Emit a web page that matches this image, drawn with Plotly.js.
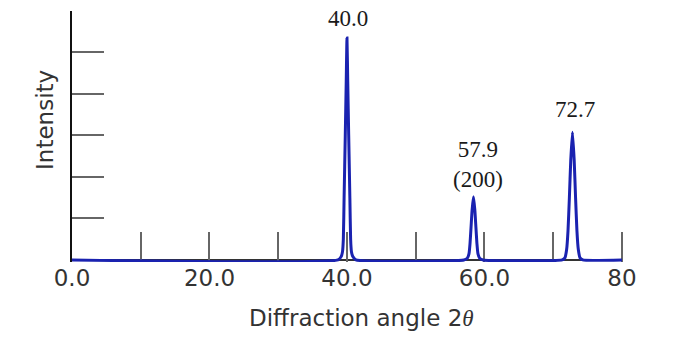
<!DOCTYPE html>
<html>
<head>
<meta charset="utf-8">
<script src="https://cdn.plot.ly/plotly-3.0.1.min.js"></script>
<style>html,body{margin:0;padding:0;background:#fff;}#chart{width:686px;height:360px;}</style>
</head>
<body>
<div id="chart"></div>
<script>
// Diffraction pattern (2θ in degrees, intensity in arbitrary tick units)
const angle = [0,
  38.7, 39.15, 39.35, 39.47, 39.58, 39.75, 39.89, 40.0, 40.11, 40.25, 40.42, 40.53, 40.65, 40.85, 41.3,
  57.0, 57.5, 57.75, 57.9, 58.05, 58.2, 58.4, 58.6, 58.75, 58.9, 59.05, 59.3, 59.8,
  71.3, 71.7, 71.95, 72.15, 72.35, 72.55, 72.8, 73.05, 73.25, 73.45, 73.65, 73.9, 74.3,
  80];
const intensity = [0,
  0, 0.08, 0.2, 0.5, 1.5, 3.0, 4.3, 5.35, 4.3, 3.0, 1.5, 0.5, 0.2, 0.08, 0,
  0, 0.04, 0.15, 0.4, 0.8, 1.2, 1.52, 1.2, 0.8, 0.4, 0.15, 0.04, 0,
  0, 0.05, 0.25, 0.7, 1.5, 2.4, 3.08, 2.4, 1.5, 0.7, 0.25, 0.05, 0,
  0];

const tickValues = [0, 10, 20, 30, 40, 50, 60, 70, 80];
const tickLabels = ["0.0", "", "20.0", "", "40.0", "", "60.0", "", "80"];
const yTickValues = [1, 2, 3, 4, 5, 6];

const peakLabels = ["40.0", "57.9<br>(200)", "72.7"];
const peakLabelX = [40.15, 59.05, 73.2];
const peakLabelY = [5.81, 2.3, 3.63];

const sans = "DejaVu Sans, sans-serif";
const serif = "Liberation Serif, Times New Roman, serif";

const annotations = peakLabels.map((t, i) => ({
  text: t, x: peakLabelX[i], y: peakLabelY[i], xref: 'x', yref: 'y',
  xanchor: 'center', yanchor: 'middle', showarrow: false,
  font: {family: serif, size: 23, color: '#1a1a1a'}
}));
annotations.push({
  text: 'Intensity', xref: 'paper', yref: 'paper', x: -0.049, y: 0.566,
  xanchor: 'center', yanchor: 'middle', textangle: -90, showarrow: false,
  font: {family: sans, size: 23, color: '#333'}
});
annotations.push({
  text: 'Diffraction angle 2<span style="font-family:Liberation Serif"><i>θ</i></span>',
  xref: 'paper', yref: 'paper', x: 0.526, y: -0.222,
  xanchor: 'center', yanchor: 'middle', showarrow: false,
  font: {family: sans, size: 23, color: '#333'}
});

const trace = {
  x: angle, y: intensity, type: 'scatter', mode: 'lines',
  line: {color: '#1a22b0', width: 3, shape: 'spline', smoothing: 0.5},
  hoverinfo: 'skip'
};

const layout = {
  width: 686, height: 360,
  margin: {l: 72, r: 63, t: 11, b: 98},
  paper_bgcolor: '#fff', plot_bgcolor: '#fff',
  showlegend: false,
  xaxis: {
    range: [0, 80.15], tickmode: 'array', tickvals: tickValues, ticktext: tickLabels,
    ticks: 'inside', ticklen: 30, tickwidth: 2, tickcolor: '#666',
    showline: false,
    showgrid: false, zeroline: false, layer: 'below traces',
    tickfont: {family: sans, size: 23, color: '#333'}
  },
  yaxis: {
    range: [-0.05, 6], tickmode: 'array', tickvals: yTickValues,
    showticklabels: false,
    ticks: 'inside', ticklen: 32, tickwidth: 2, tickcolor: '#666',
    showline: true, linecolor: '#111', linewidth: 2.5,
    showgrid: false, zeroline: false, layer: 'below traces'
  },
  shapes: [{
    type: 'line', xref: 'x', yref: 'y', x0: 0, x1: 80, y0: 0, y1: 0,
    line: {color: '#333', width: 2}, layer: 'below'
  }],
  annotations: annotations
};

Plotly.newPlot('chart', [trace], layout, {displayModeBar: false, staticPlot: true});
</script>
</body>
</html>
